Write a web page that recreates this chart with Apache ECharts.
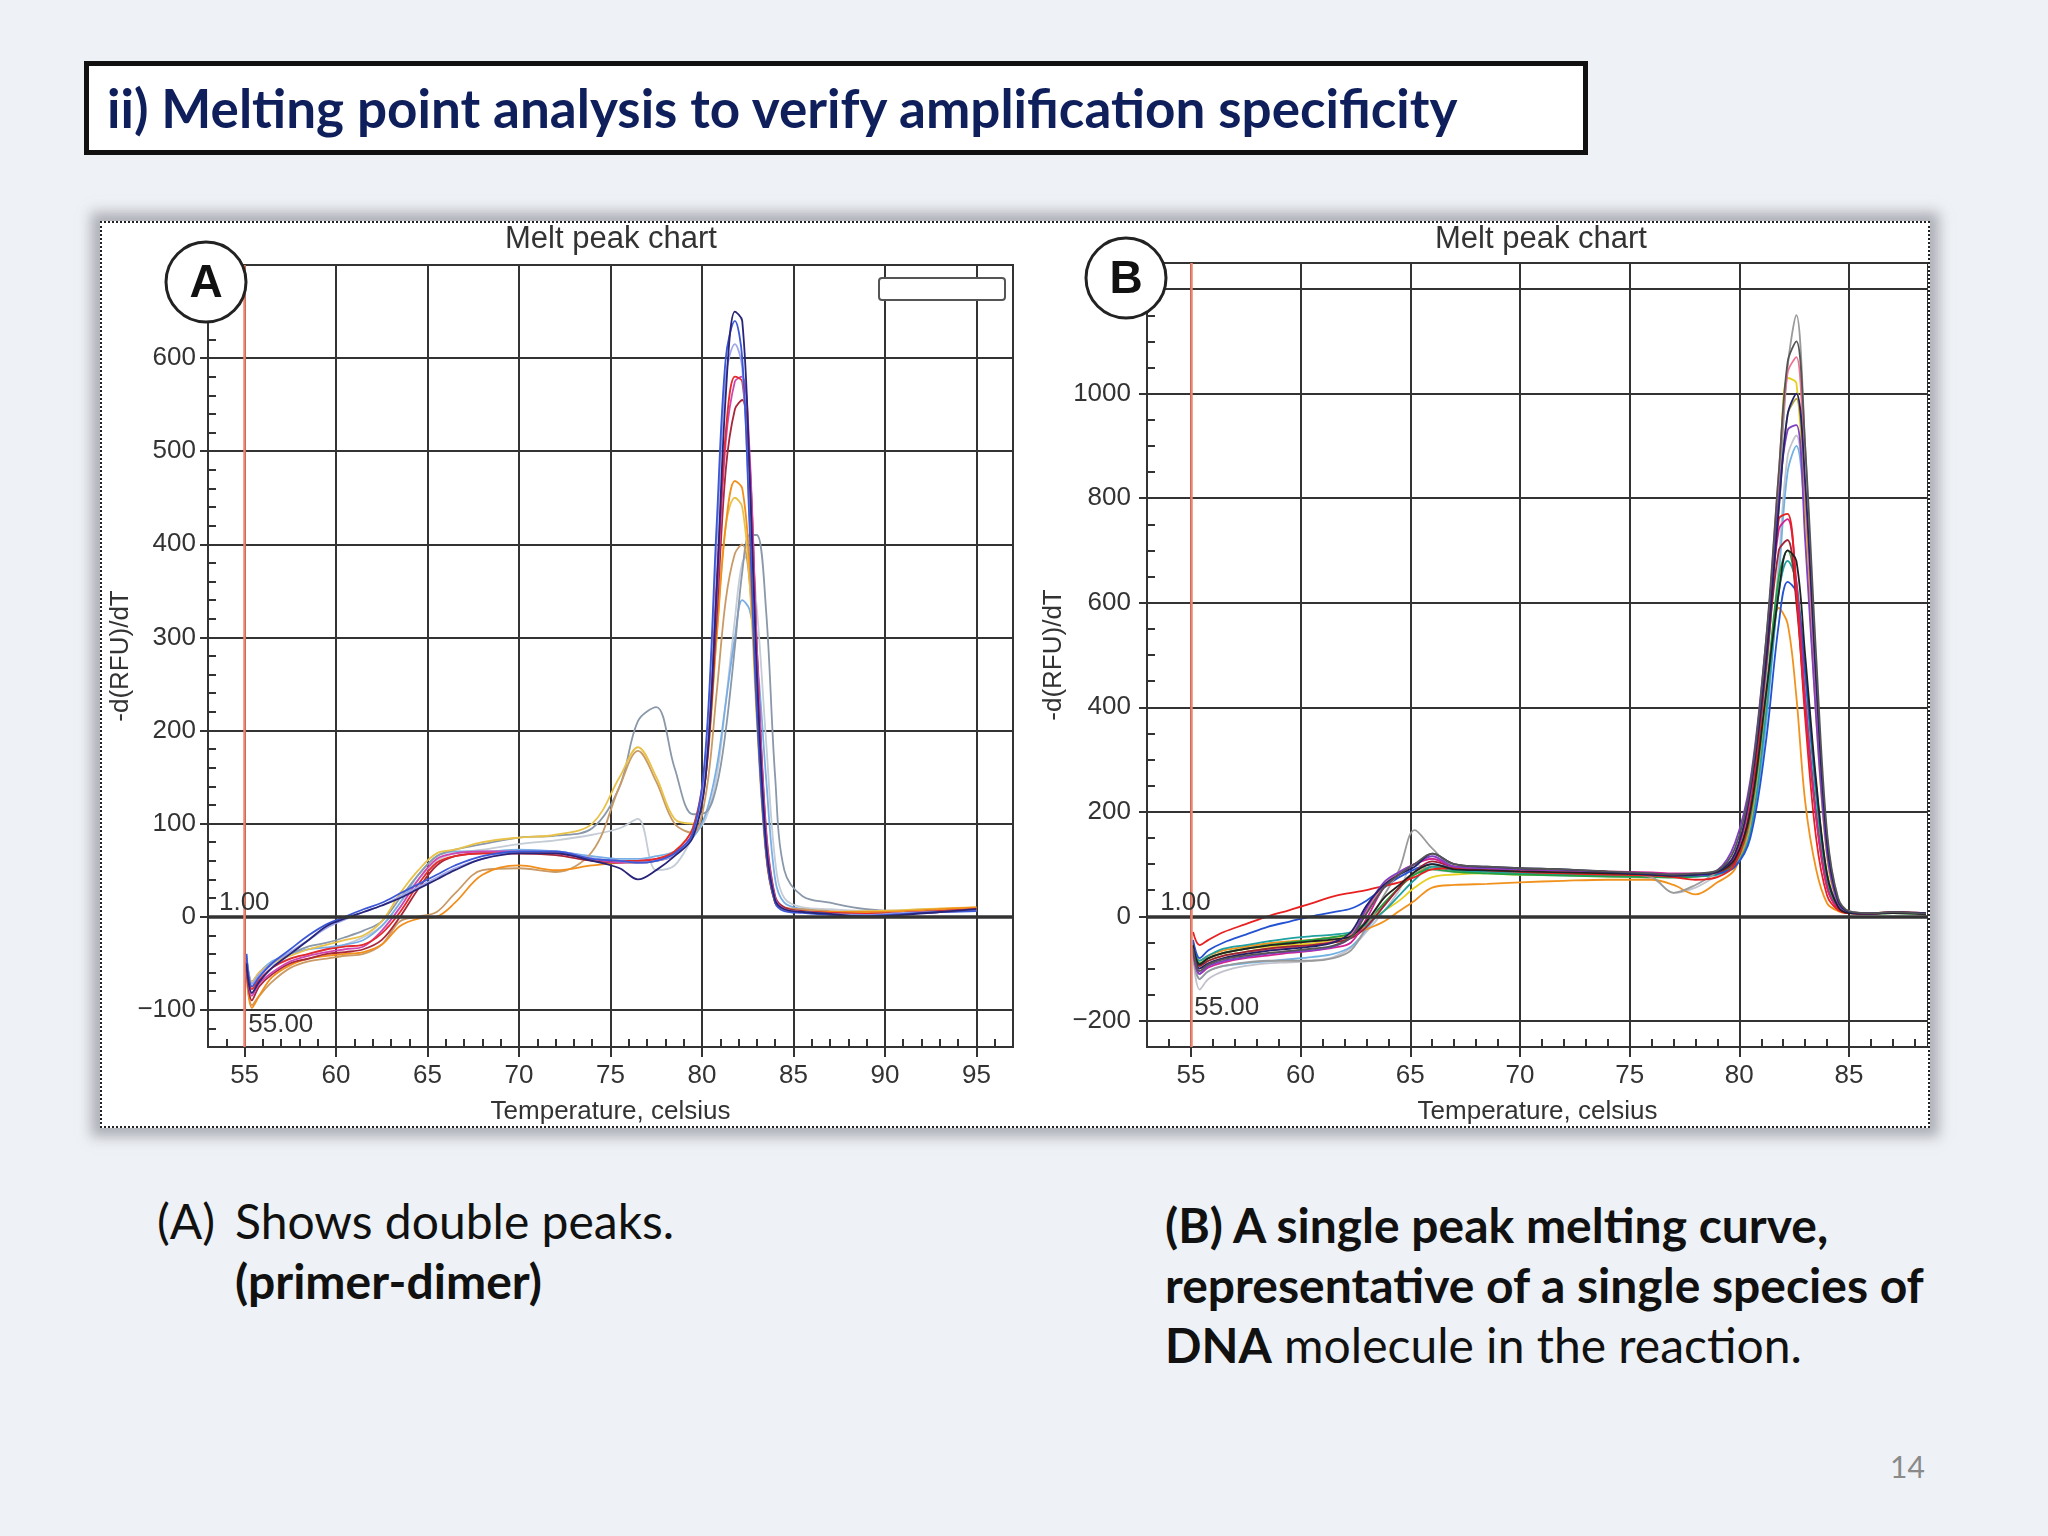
<!DOCTYPE html>
<html>
<head>
<meta charset="utf-8">
<script src="https://cdn.jsdelivr.net/npm/echarts@6/dist/echarts.min.js"></script>
<style>
  body {
    margin: 0;
    width: 2048px;
    height: 1536px;
    position: relative;
    overflow: hidden;
    background: #eef1f5;
    font-family: Lato, "Open Sans", sans-serif;
  }
  .title-box {
    position: absolute;
    left: 84px;
    top: 61px;
    width: 1494px;
    height: 84px;
    border: 5px solid #111;
    background: #fff;
  }
  .title-box span {
    position: absolute;
    left: 18px;
    top: 0;
    line-height: 84px;
    font-size: 53px;
    font-weight: bold;
    color: #0e1f5c;
    white-space: nowrap;
  }
  #chart-wrap {
    position: absolute;
    left: 100px;
    top: 221px;
    width: 1830px;
    height: 907px;
    box-sizing: border-box;
    background: #fff;
    border: 2px dotted #222;
    box-shadow: 0 0 12px 9px rgba(140, 142, 150, 0.65);
  }
  #chart {
    width: 100%;
    height: 100%;
  }
  .cap {
    position: absolute;
    font-size: 48px;
    line-height: 60px;
    color: #111;
    white-space: nowrap;
  }
  .cap b { font-weight: bold; }
  .page-no {
    position: absolute;
    left: 1890px;
    top: 1448px;
    font-size: 30px;
    color: #8a8a8a;
  }
</style>
</head>
<body>
<div class="title-box"><span>ii) Melting point analysis to verify amplification specificity</span></div>
<div id="chart-wrap"><div id="chart"></div></div>
<div class="cap" style="left:157px; top:1191px;">(A)</div>
<div class="cap" style="left:235px; top:1191px;">Shows double peaks.<br><b>(primer-dimer)</b></div>
<div class="cap" style="left:1165px; top:1195px;"><b>(B) A single peak melting curve,<br>representative of a single species of<br>DNA</b> molecule in the reaction.</div>
<div class="page-no">14</div>

<script>
// temperatures (celsius) sampled for each panel
const TEMP_A = [55.1, 55.4, 55.8, 56.5, 57.5, 58.5, 59.5, 60.5, 61.5, 62.5,
  63.5, 64.5, 65.5, 66.5, 68, 70, 72, 74, 75.5, 76.5,
  77.5, 78.5, 79.5, 80.2, 80.8, 81.3, 81.8, 82.2, 82.6, 83,
  83.5, 84, 84.5, 85.5, 87, 89, 91, 93, 95];
const TEMP_B = [55.1, 55.4, 55.8, 56.5, 57.5, 58.5, 59.5, 60.5, 61.5, 62.3,
  63, 63.8, 64.5, 65.2, 66, 67, 68.5, 70, 72, 74,
  76, 77, 78, 79, 79.8, 80.5, 81.2, 81.8, 82.2, 82.6,
  83, 83.5, 84, 84.5, 85, 86, 87, 88.5];

// panel A, -d(RFU)/dT
const A_NAVY = [-50, -82, -70, -55, -40, -25, -10, -2, 5, 12, 20, 30, 40, 50, 62, 68, 68, 60, 52, 40, 50, 65, 85, 150, 350, 560, 650, 640, 480, 260, 80, 18, 8, 5, 3, 0, 2, 5, 8];
const A_BLUE = [-40, -75, -65, -50, -35, -20, -8, 0, 8, 15, 25, 35, 45, 55, 65, 70, 70, 62, 60, 58, 60, 68, 90, 180, 420, 600, 640, 600, 420, 220, 70, 15, 6, 4, 2, 1, 3, 5, 6];
const A_RED = [-45, -78, -68, -55, -45, -40, -35, -32, -30, -18, 5, 35, 58, 65, 68, 68, 68, 62, 60, 60, 62, 70, 95, 170, 360, 520, 580, 575, 470, 260, 70, 15, 8, 5, 4, 3, 4, 6, 8];
const A_MAGENTA = [-50, -85, -72, -60, -48, -42, -38, -35, -32, -15, 10, 40, 62, 68, 70, 70, 68, 62, 58, 60, 62, 68, 90, 160, 340, 510, 575, 580, 500, 290, 90, 20, 8, 5, 3, 2, 3, 5, 7];
const A_DARKRED = [-55, -90, -75, -62, -50, -45, -40, -38, -35, -25, 0, 30, 55, 65, 68, 68, 66, 60, 58, 58, 60, 66, 88, 150, 320, 480, 545, 555, 490, 290, 95, 22, 10, 6, 4, 3, 4, 6, 8];
const A_ORANGE = [-60, -98, -85, -65, -52, -45, -42, -40, -38, -30, -10, -2, 0, 15, 45, 55, 50, 55, 58, 60, 62, 70, 95, 160, 300, 420, 468, 460, 380, 220, 70, 15, 8, 6, 5, 5, 6, 8, 10];
const A_YELLOW = [-45, -70, -60, -50, -42, -35, -30, -25, -20, -5, 25, 50, 68, 72, 80, 85, 88, 100, 150, 182, 150, 105, 100, 150, 300, 420, 450, 440, 360, 210, 65, 15, 8, 6, 5, 6, 7, 9, 10];
const A_TAN = [-60, -95, -85, -70, -55, -48, -45, -42, -40, -30, -5, 0, 5, 25, 50, 52, 48, 70, 140, 178, 145, 100, 90, 130, 240, 340, 390, 400, 360, 230, 80, 20, 10, 8, 6, 5, 6, 8, 9];
const A_SLATE = [-45, -72, -62, -50, -40, -32, -28, -22, -15, -5, 20, 45, 65, 72, 78, 85, 87, 95, 140, 210, 225, 160, 110, 112, 140, 200, 290, 370, 410, 410, 330, 150, 50, 22, 15, 8, 6, 6, 8];
const A_SKY = [-40, -70, -60, -48, -40, -35, -33, -30, -25, -10, 15, 45, 65, 70, 70, 72, 70, 65, 62, 62, 65, 70, 85, 110, 160, 230, 300, 340, 330, 280, 150, 40, 15, 8, 5, 4, 4, 5, 6];
const A_LAVENDER = [-42, -72, -62, -50, -38, -25, -12, -3, 5, 12, 22, 32, 42, 52, 62, 70, 70, 63, 60, 58, 60, 66, 88, 170, 400, 580, 615, 590, 430, 230, 75, 18, 8, 5, 3, 2, 4, 5, 7];
const A_PALE = [-45, -70, -62, -52, -45, -40, -35, -30, -22, -10, 15, 40, 60, 68, 72, 78, 82, 88, 95, 105, 50, 55, 85, 105, 150, 230, 320, 380, 390, 330, 190, 60, 20, 10, 8, 6, 7, 8, 8];

// panel B, -d(RFU)/dT
const B_GRAY = [-70, -120, -105, -95, -88, -85, -85, -85, -80, -65, -20, 40, 90, 165, 130, 95, 90, 88, 85, 82, 75, 45, 60, 85, 110, 200, 450, 800, 1050, 1150, 900, 450, 150, 30, 8, 5, 8, 5];
const B_RED = [-30, -55, -45, -30, -15, 0, 12, 25, 38, 45, 50, 58, 65, 75, 90, 92, 88, 85, 82, 80, 78, 75, 70, 75, 100, 200, 480, 760, 770, 620, 380, 150, 40, 12, 6, 5, 8, 6];
const B_PINK = [-60, -100, -90, -80, -72, -65, -60, -55, -48, -35, 10, 60, 85, 100, 110, 95, 90, 88, 85, 82, 80, 78, 80, 85, 120, 230, 500, 850, 1040, 1070, 820, 420, 130, 25, 8, 6, 8, 4];
const B_YELLOW = [-55, -90, -80, -70, -62, -58, -55, -52, -45, -35, -15, 10, 30, 55, 75, 80, 82, 80, 80, 80, 78, 76, 78, 82, 110, 210, 470, 820, 1030, 1020, 760, 380, 110, 20, 7, 5, 6, 4];
const B_PURPLE = [-65, -110, -95, -85, -78, -72, -68, -65, -58, -40, 15, 65, 85, 100, 115, 95, 92, 90, 88, 85, 82, 80, 80, 88, 140, 260, 520, 800, 930, 940, 720, 380, 120, 25, 8, 6, 7, 5];
const B_NAVY = [-60, -100, -90, -80, -72, -66, -62, -58, -50, -30, 20, 60, 80, 95, 120, 100, 95, 92, 90, 85, 80, 78, 80, 86, 120, 240, 480, 780, 960, 1000, 830, 450, 140, 30, 8, 5, 8, 6];
const B_GREEN = [-55, -90, -80, -70, -62, -55, -50, -45, -40, -32, -10, 25, 55, 80, 90, 85, 82, 80, 78, 76, 75, 74, 76, 82, 100, 190, 420, 650, 700, 620, 420, 200, 60, 15, 6, 5, 6, 4];
const B_TEAL = [-50, -85, -75, -62, -55, -48, -42, -38, -35, -30, -15, 10, 40, 70, 95, 88, 85, 82, 80, 78, 76, 75, 76, 80, 95, 160, 380, 620, 680, 640, 460, 230, 70, 18, 6, 5, 6, 4];
const B_BLUE = [-45, -80, -65, -50, -35, -20, -10, 0, 8, 15, 30, 55, 75, 90, 100, 92, 90, 88, 85, 82, 80, 78, 78, 82, 95, 150, 330, 560, 640, 620, 470, 250, 80, 20, 8, 6, 7, 5];
const B_ORANGE = [-50, -85, -75, -65, -58, -52, -48, -45, -40, -35, -25, -10, 10, 30, 55, 60, 62, 65, 68, 70, 70, 60, 42, 65, 90, 180, 400, 590, 560, 420, 220, 90, 25, 10, 6, 6, 8, 5];
const B_MAGENTA = [-65, -110, -98, -88, -80, -75, -70, -66, -60, -50, -5, 55, 80, 100, 110, 95, 92, 90, 88, 86, 84, 82, 82, 86, 115, 230, 500, 740, 760, 640, 420, 190, 55, 14, 6, 5, 7, 5];
const B_DARKRED = [-58, -95, -85, -75, -68, -62, -58, -55, -50, -42, -20, 20, 55, 85, 105, 95, 92, 90, 88, 85, 82, 80, 80, 84, 105, 210, 470, 700, 720, 600, 400, 190, 55, 14, 6, 5, 7, 5];
const B_SKY = [-70, -120, -105, -95, -90, -86, -82, -78, -72, -58, -25, 20, 55, 80, 95, 90, 88, 85, 82, 80, 78, 76, 78, 82, 100, 160, 360, 650, 850, 900, 760, 420, 140, 30, 8, 5, 7, 5];
const B_DIMGRAY = [-62, -105, -92, -82, -75, -70, -66, -62, -56, -40, 5, 55, 80, 100, 120, 100, 95, 92, 90, 86, 82, 80, 82, 88, 130, 250, 520, 850, 1060, 1100, 900, 500, 160, 35, 10, 6, 8, 5];
const B_OLIVE = [-55, -95, -85, -75, -68, -62, -58, -55, -50, -40, -15, 25, 55, 80, 95, 90, 88, 86, 84, 82, 80, 78, 80, 84, 110, 210, 460, 780, 960, 990, 800, 430, 140, 30, 8, 6, 8, 5];
const B_BLACK = [-55, -92, -80, -70, -62, -56, -52, -48, -44, -38, -10, 35, 60, 85, 100, 90, 88, 86, 84, 82, 80, 78, 80, 85, 110, 200, 420, 620, 700, 680, 500, 260, 80, 18, 6, 5, 6, 4];
const B_SILVER = [-75, -140, -120, -105, -95, -90, -88, -85, -78, -60, -30, 10, 50, 100, 90, 85, 82, 80, 78, 76, 72, 45, 55, 78, 95, 170, 380, 680, 880, 920, 760, 420, 150, 35, 10, 6, 8, 5];

// tick labels
const X_TICKS_A = [55, 60, 65, 70, 75, 80, 85, 90, 95];
const Y_TICKS_A = [-100, 0, 100, 200, 300, 400, 500, 600];
const X_TICKS_B = [55, 60, 65, 70, 75, 80, 85];
const Y_TICKS_B = [-200, 0, 200, 400, 600, 800, 1000, 1200];
const Y_LABELS_B = [-200, 0, 200, 400, 600, 800, 1000];

const curvesA = [A_PALE, A_SKY, A_SLATE, A_TAN, A_YELLOW, A_ORANGE, A_DARKRED, A_MAGENTA, A_RED, A_LAVENDER, A_BLUE, A_NAVY];
const colorsA = ['#c4ccd6', '#78aee6', '#8a98aa', '#c99a66', '#e9c24a', '#f28e1c', '#a8283a', '#d046b0', '#e42a2a', '#9ea6ee', '#3c58d6', '#28247a'];
const curvesB = [B_SILVER, B_SKY, B_ORANGE, B_YELLOW, B_OLIVE, B_TEAL, B_GREEN, B_BLUE, B_GRAY, B_PINK, B_DARKRED, B_MAGENTA, B_RED, B_PURPLE, B_BLACK, B_NAVY, B_DIMGRAY];
const colorsB = ['#c2c2cc', '#72b2e2', '#f2921e', '#e6d020', '#b0a040', '#20a0a0', '#22a244', '#2452d2', '#9a9a9a', '#f07292', '#a02234', '#d22292', '#e82020', '#8040c2', '#222222', '#22226a', '#555555'];

const FONT = '"Liberation Sans", Arial, sans-serif';
const INK = '#333';

const chart = echarts.init(document.getElementById('chart'));

const fmtValue = v => (v < 0 ? '\u2212' + Math.abs(v) : String(v));

function majorX(grid, min, max, ticks) {
  return {
    type: 'value', gridIndex: grid, min: min, max: max, position: 'bottom',
    name: 'Temperature, celsius', nameLocation: 'middle', nameGap: 52,
    nameTextStyle: { fontSize: 26, color: INK, fontFamily: FONT },
    axisLine: { show: true, onZero: false, lineStyle: { color: INK, width: 2 } },
    axisTick: { show: true, customValues: ticks, length: 10, lineStyle: { color: INK, width: 2 } },
    axisLabel: { customValues: ticks, fontSize: 26, color: INK, fontFamily: FONT, margin: 16 },
    splitLine: { show: true, lineStyle: { color: INK, width: 2 } }
  };
}
function minorX(grid, min, max) {
  return {
    type: 'value', gridIndex: grid, min: min, max: max, interval: 1, position: 'bottom',
    axisLine: { show: false, onZero: false },
    axisTick: { show: true, inside: true, length: 8, lineStyle: { color: INK, width: 2 } },
    axisLabel: { show: false },
    splitLine: { show: false }
  };
}
function majorY(grid, min, max, ticks, labels, gap, margin) {
  return {
    type: 'value', gridIndex: grid, min: min, max: max, position: 'left',
    name: '-d(RFU)/dT', nameLocation: 'middle', nameGap: gap,
    nameTextStyle: { fontSize: 26, color: INK, fontFamily: FONT },
    axisLine: { show: true, onZero: false, lineStyle: { color: INK, width: 2 } },
    axisTick: { show: true, customValues: ticks, length: 8, lineStyle: { color: INK, width: 2 } },
    axisLabel: { customValues: labels, formatter: fmtValue, fontSize: 26, color: INK, fontFamily: FONT, margin: margin },
    splitLine: { show: true, lineStyle: { color: INK, width: 2 } }
  };
}
function minorY(grid, min, max, step) {
  return {
    type: 'value', gridIndex: grid, min: min, max: max, interval: step, position: 'left',
    axisLine: { show: false, onZero: false },
    axisTick: { show: true, inside: true, length: 8, lineStyle: { color: INK, width: 2 } },
    axisLabel: { show: false },
    splitLine: { show: false }
  };
}

function curve(temps, values, color, xi, yi) {
  return {
    type: 'line', xAxisIndex: xi, yAxisIndex: yi,
    data: temps.map((t, i) => [t, values[i]]),
    smooth: 0.35, showSymbol: false, symbol: 'none', silent: true,
    lineStyle: { color: color, width: 1.8 }, itemStyle: { color: color },
    z: 3
  };
}

function refLines(xi, yi) {
  return {
    type: 'line', xAxisIndex: xi, yAxisIndex: yi, data: [], silent: true,
    markLine: {
      symbol: 'none', silent: true, label: { show: false }, animation: false,
      data: [
        { yAxis: 0, lineStyle: { color: INK, width: 3.5, type: 'solid' } },
        { xAxis: 55, lineStyle: { color: '#f3846e', width: 2.5, type: 'solid' } }
      ]
    }
  };
}

const series = [refLines(0, 0), refLines(2, 2)];
curvesA.forEach((c, i) => series.push(curve(TEMP_A, c, colorsA[i], 0, 0)));
curvesB.forEach((c, i) => series.push(curve(TEMP_B, c, colorsB[i], 2, 2)));

chart.setOption({
  animation: false,
  grid: [
    { left: 106, top: 42, width: 805, height: 782, outerBoundsMode: 'none', containLabel: false,
      show: true, borderColor: INK, borderWidth: 2, backgroundColor: 'transparent' },
    { left: 1045, top: 40, width: 781, height: 784, outerBoundsMode: 'none', containLabel: false,
      show: true, borderColor: INK, borderWidth: 2, backgroundColor: 'transparent' }
  ],
  xAxis: [
    majorX(0, 53, 97, X_TICKS_A),
    minorX(0, 53, 97),
    majorX(1, 53, 88.6, X_TICKS_B),
    minorX(1, 53, 88.6)
  ],
  yAxis: [
    majorY(0, -140, 700, Y_TICKS_A, Y_TICKS_A, 74, 12),
    minorY(0, -140, 700, 20),
    majorY(1, -250, 1250, Y_TICKS_B, Y_LABELS_B, 80, 16),
    minorY(1, -250, 1250, 50)
  ],
  series: series
});

// annotations placed through the axes
const pA0 = chart.convertToPixel({ gridIndex: 0 }, [53.6, 0]);
const pA55 = chart.convertToPixel({ gridIndex: 0 }, [55.2, -116]);
const pB0 = chart.convertToPixel({ gridIndex: 1 }, [53.6, 0]);
const pB55 = chart.convertToPixel({ gridIndex: 1 }, [55.15, -175]);

const txt = (x, y, text, extra) => ({
  type: 'text', x: x, y: y, z: 20,
  style: Object.assign({ text: text, fill: INK, font: '26px ' + FONT }, extra || {})
});

chart.setOption({
  graphic: [
    txt(pA0[0], pA0[1] - 1, '1.00', { verticalAlign: 'bottom' }),
    txt(pA55[0], pA55[1], '55.00', { verticalAlign: 'middle' }),
    txt(pB0[0], pB0[1] - 1, '1.00', { verticalAlign: 'bottom' }),
    txt(pB55[0], pB55[1], '55.00', { verticalAlign: 'middle' }),
    txt(509, 16, 'Melt peak chart', { align: 'center', verticalAlign: 'middle', font: '31px ' + FONT }),
    txt(1439, 16, 'Melt peak chart', { align: 'center', verticalAlign: 'middle', font: '31px ' + FONT }),
    { type: 'rect', z: 20, shape: { x: 777, y: 55, width: 126, height: 22, r: 3 }, style: { fill: '#fff', stroke: '#555', lineWidth: 2 } },
    { type: 'circle', z: 20, shape: { cx: 104, cy: 59, r: 40 }, style: { fill: '#fff', stroke: '#222', lineWidth: 3 } },
    txt(104, 61, 'A', { align: 'center', verticalAlign: 'middle', font: 'bold 46px ' + FONT, fill: '#111' }),
    { type: 'circle', z: 20, shape: { cx: 1024, cy: 55, r: 40 }, style: { fill: '#fff', stroke: '#222', lineWidth: 3 } },
    txt(1024, 57, 'B', { align: 'center', verticalAlign: 'middle', font: 'bold 46px ' + FONT, fill: '#111' })
  ]
});
</script>
</body>
</html>
